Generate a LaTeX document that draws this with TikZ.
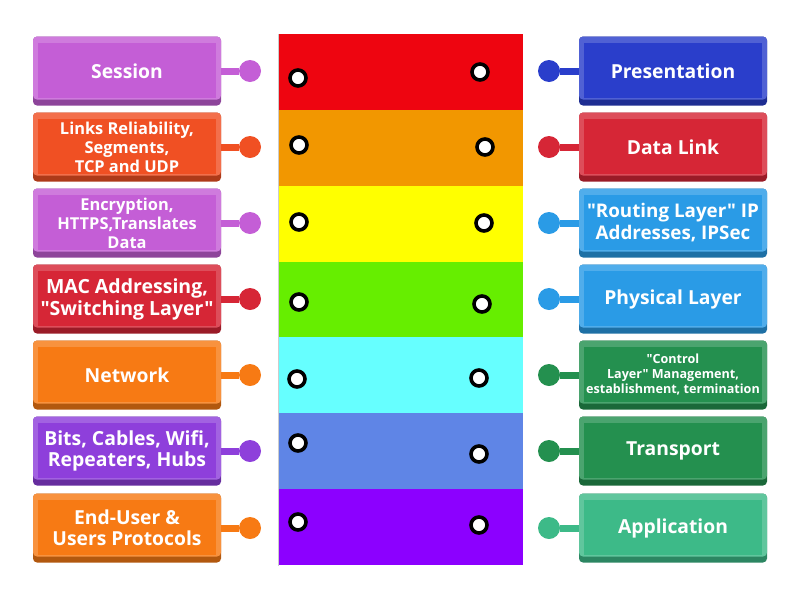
\documentclass[tikz,border=0pt]{standalone}
\usepackage{fontspec}
\setmainfont{Open Sans}[Ligatures=TeXOff]
\definecolor{cSess}{HTML}{C45ED6}
\definecolor{cLink}{HTML}{F05023}
\definecolor{cMac}{HTML}{D62636}
\definecolor{cNet}{HTML}{F77A14}
\definecolor{cBits}{HTML}{8E3FDB}
\definecolor{cPres}{HTML}{2A3ECB}
\definecolor{cRout}{HTML}{2A9BE6}
\definecolor{cCtrl}{HTML}{24904F}
\definecolor{cAppl}{HTML}{3DBA88}
\definecolor{bRed}{HTML}{EE0510}
\definecolor{bOrange}{HTML}{F29700}
\definecolor{bYellow}{HTML}{FFFF00}
\definecolor{bGreen}{HTML}{66EE00}
\definecolor{bCyan}{HTML}{66FFFF}
\definecolor{bBlue}{HTML}{5F85E6}
\definecolor{bPurple}{HTML}{8C00FF}
\newcommand\qq{\char34\relax}
\tikzset{
  tile/.style={minimum width=188pt, minimum height=69pt, inner sep=0pt, text=white, align=center},
  knob/.style={circle, inner sep=0pt, minimum size=22pt},
  ring/.style={circle, inner sep=0pt, minimum size=16pt, draw=black, line width=3.6pt, fill=white},
}
% #1 name, #2 centre x, #3 centre y, #4 colour, #5 font size, #6 skip, #7 text
\newcommand\tilebox[7]{%
  \fill[#4!72!black, rounded corners=4pt] (#2-94,#3-34.5) rectangle (#2+94,#3+34.5);
  \fill[#4!82!white, rounded corners=4pt] (#2-94,#3-34.5) rectangle (#2+94,#3+28.5);
  \fill[#4] (#2-89,#3-28.5) rectangle (#2+89,#3+26.5);
  \node[tile, font=\bfseries\fontsize{#5}{#6}\selectfont] (#1) at (#2,#3) {#7};
}
\begin{document}
\begin{tikzpicture}[x=1pt,y=-1pt]
\useasboundingbox (0,0) rectangle (800,600);
% bands
\fill[bRed]    (278,34)  rectangle (523,110);
\fill[bOrange] (278,110) rectangle (523,186);
\fill[bYellow] (278,186) rectangle (523,262);
\fill[bGreen]  (278,262) rectangle (523,337);
\fill[bCyan]   (278,337) rectangle (523,413);
\fill[bBlue]   (278,413) rectangle (523,489);
\fill[bPurple] (278,489) rectangle (523,565);
\draw[black!20, line width=0.8pt] (278,34) -- (278,566);
% rings
\node[ring] (r1l) at (298,78) {};  \node[ring] (r1r) at (480,72) {};
\node[ring] (r2l) at (299,145) {}; \node[ring] (r2r) at (485,147) {};
\node[ring] (r3l) at (299,222) {}; \node[ring] (r3r) at (484,223) {};
\node[ring] (r4l) at (299,302) {}; \node[ring] (r4r) at (482,304) {};
\node[ring] (r5l) at (297,379) {}; \node[ring] (r5r) at (479,378) {};
\node[ring] (r6l) at (298,443) {}; \node[ring] (r6r) at (479,454) {};
\node[ring] (r7l) at (298,522) {}; \node[ring] (r7r) at (479,525) {};
% left tiles
\tilebox{L1}{127}{71}{cSess}{19.3}{21}{Session}
\tilebox{L2}{127}{147}{cLink}{16.4}{19}{Links Reliability,\\Segments,\\TCP and UDP}
\tilebox{L3}{127}{223}{cSess}{16.4}{19}{Encryption,\\HTTPS,Translates\\Data}
\tilebox{L4}{127}{299}{cMac}{19.5}{22}{MAC Addressing,\\\qq Switching Layer\qq}
\tilebox{L5}{127}{375}{cNet}{19.3}{21}{Network}
\tilebox{L6}{127}{451}{cBits}{19.4}{21}{Bits, Cables, Wifi,\\Repeaters, Hubs}
\tilebox{L7}{127}{528}{cNet}{19.3}{21}{End-User \&\\Users Protocols}
% right tiles
\tilebox{R1}{673}{71}{cPres}{19.3}{21}{Presentation}
\tilebox{R2}{673}{147}{cMac}{19.3}{21}{Data Link}
\tilebox{R3}{673}{223}{cRout}{18.8}{22}{\qq Routing Layer\qq{} IP\\Addresses, IPSec}
\tilebox{R4}{673}{299}{cRout}{19.3}{21}{Physical Layer}
\tilebox{R5}{673}{375}{cCtrl}{12.6}{15}{\qq Control\\Layer\qq{} Management,\\establishment, termination}
\tilebox{R6}{673}{451}{cCtrl}{19.3}{21}{Transport}
\tilebox{R7}{673}{528}{cAppl}{19.3}{21}{Application}
% knobs
\foreach \n/\c/\y in {1/cSess/71,2/cLink/147,3/cSess/223,4/cMac/299,5/cNet/375,6/cBits/451,7/cNet/528}{
  \node[knob, fill=\c] (kL\n) at (250,\y) {};
  \draw[\c, line width=7pt] (L\n.east) -- (kL\n);
}
\foreach \n/\c/\y in {1/cPres/71,2/cMac/147,3/cRout/223,4/cRout/299,5/cCtrl/375,6/cCtrl/451,7/cAppl/528}{
  \node[knob, fill=\c] (kR\n) at (549,\y) {};
  \draw[\c, line width=7pt] (R\n.west) -- (kR\n);
}
\end{tikzpicture}
\end{document}
